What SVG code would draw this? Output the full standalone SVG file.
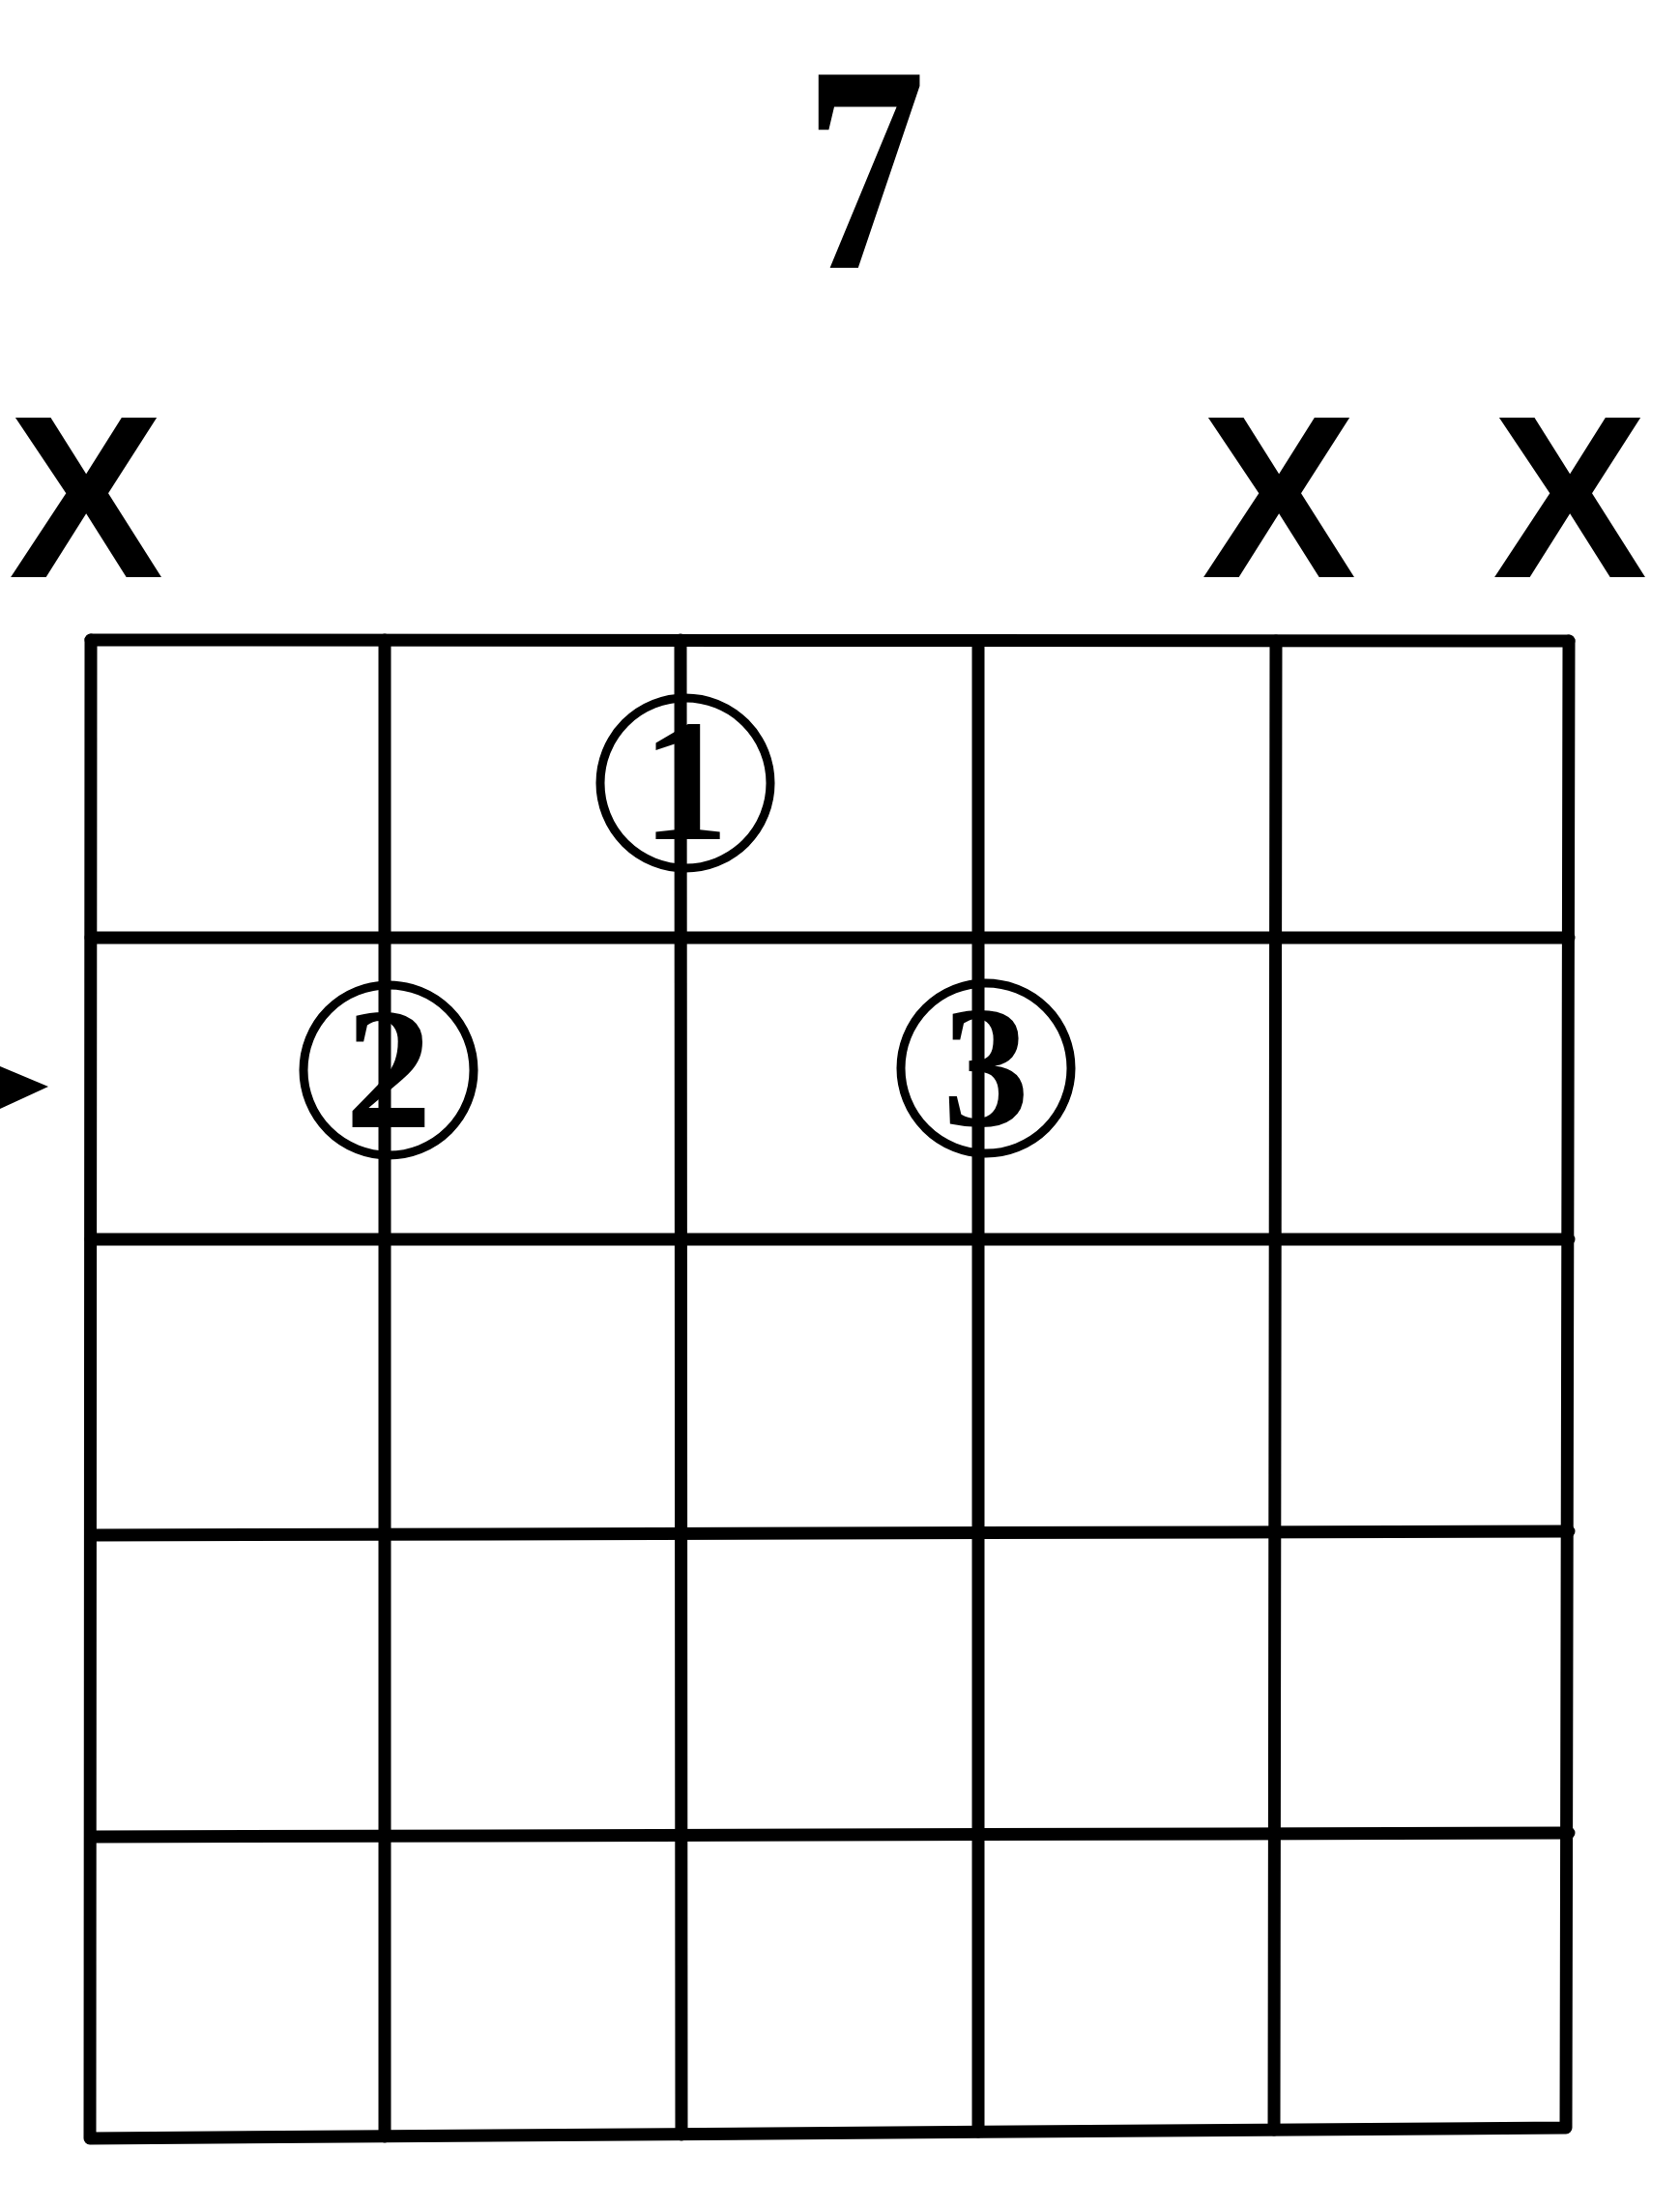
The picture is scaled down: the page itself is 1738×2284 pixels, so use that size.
<svg xmlns="http://www.w3.org/2000/svg" width="1738" height="2284" viewBox="0 0 1738 2284">
<style>
.grid{stroke:#000;stroke-width:13;fill:none;stroke-linecap:round;stroke-linejoin:round}
.finger{stroke:#000;stroke-width:9;fill:none}
.num{font-family:"Liberation Serif","Times New Roman",serif;font-weight:bold;font-size:180px;fill:#000;text-anchor:middle}
.mute{font-family:"Liberation Sans",Arial,sans-serif;font-weight:bold;font-size:240px;fill:#000;text-anchor:middle}
.title{font-family:"Liberation Serif","Times New Roman",serif;font-weight:bold;font-size:305px;fill:#000;text-anchor:middle}
</style>
<rect width="1738" height="2284" fill="#fff"/>
<g id="title"><text class="title" x="0" y="277" transform="translate(895,0) scale(0.82,1)">7</text></g>
<g id="mutes">
<text class="mute" x="89" y="597">X</text>
<text class="mute" x="1323" y="597">X</text>
<text class="mute" x="1624" y="597">X</text>
</g>
<g id="grid" class="grid">
<path d="M94,662 L1623,663"/>
<path d="M94,970 L1623,970"/>
<path d="M94,1282 L1623,1282"/>
<path d="M94,1588 L1623,1584"/>
<path d="M94,1900 L1623,1896"/>
<path d="M94,662 L93,2212 L1620,2201 L1623,663"/>
<path d="M398,662 L398,2210"/>
<path d="M704,662 L705,2208"/>
<path d="M1012,663 L1012,2205"/>
<path d="M1320,663 L1318,2203"/>
</g>
<g id="arrow"><polygon points="0,1103 50,1124 0,1147" fill="#000"/></g>
<g id="finger1"><circle class="finger" cx="709" cy="810" r="88"/><text class="num" x="709" y="868">1</text></g>
<g id="finger2"><circle class="finger" cx="402" cy="1107" r="88"/><text class="num" x="402" y="1166">2</text></g>
<g id="finger3"><circle class="finger" cx="1020" cy="1105" r="88"/><text class="num" x="1020" y="1164">3</text></g>
</svg>
